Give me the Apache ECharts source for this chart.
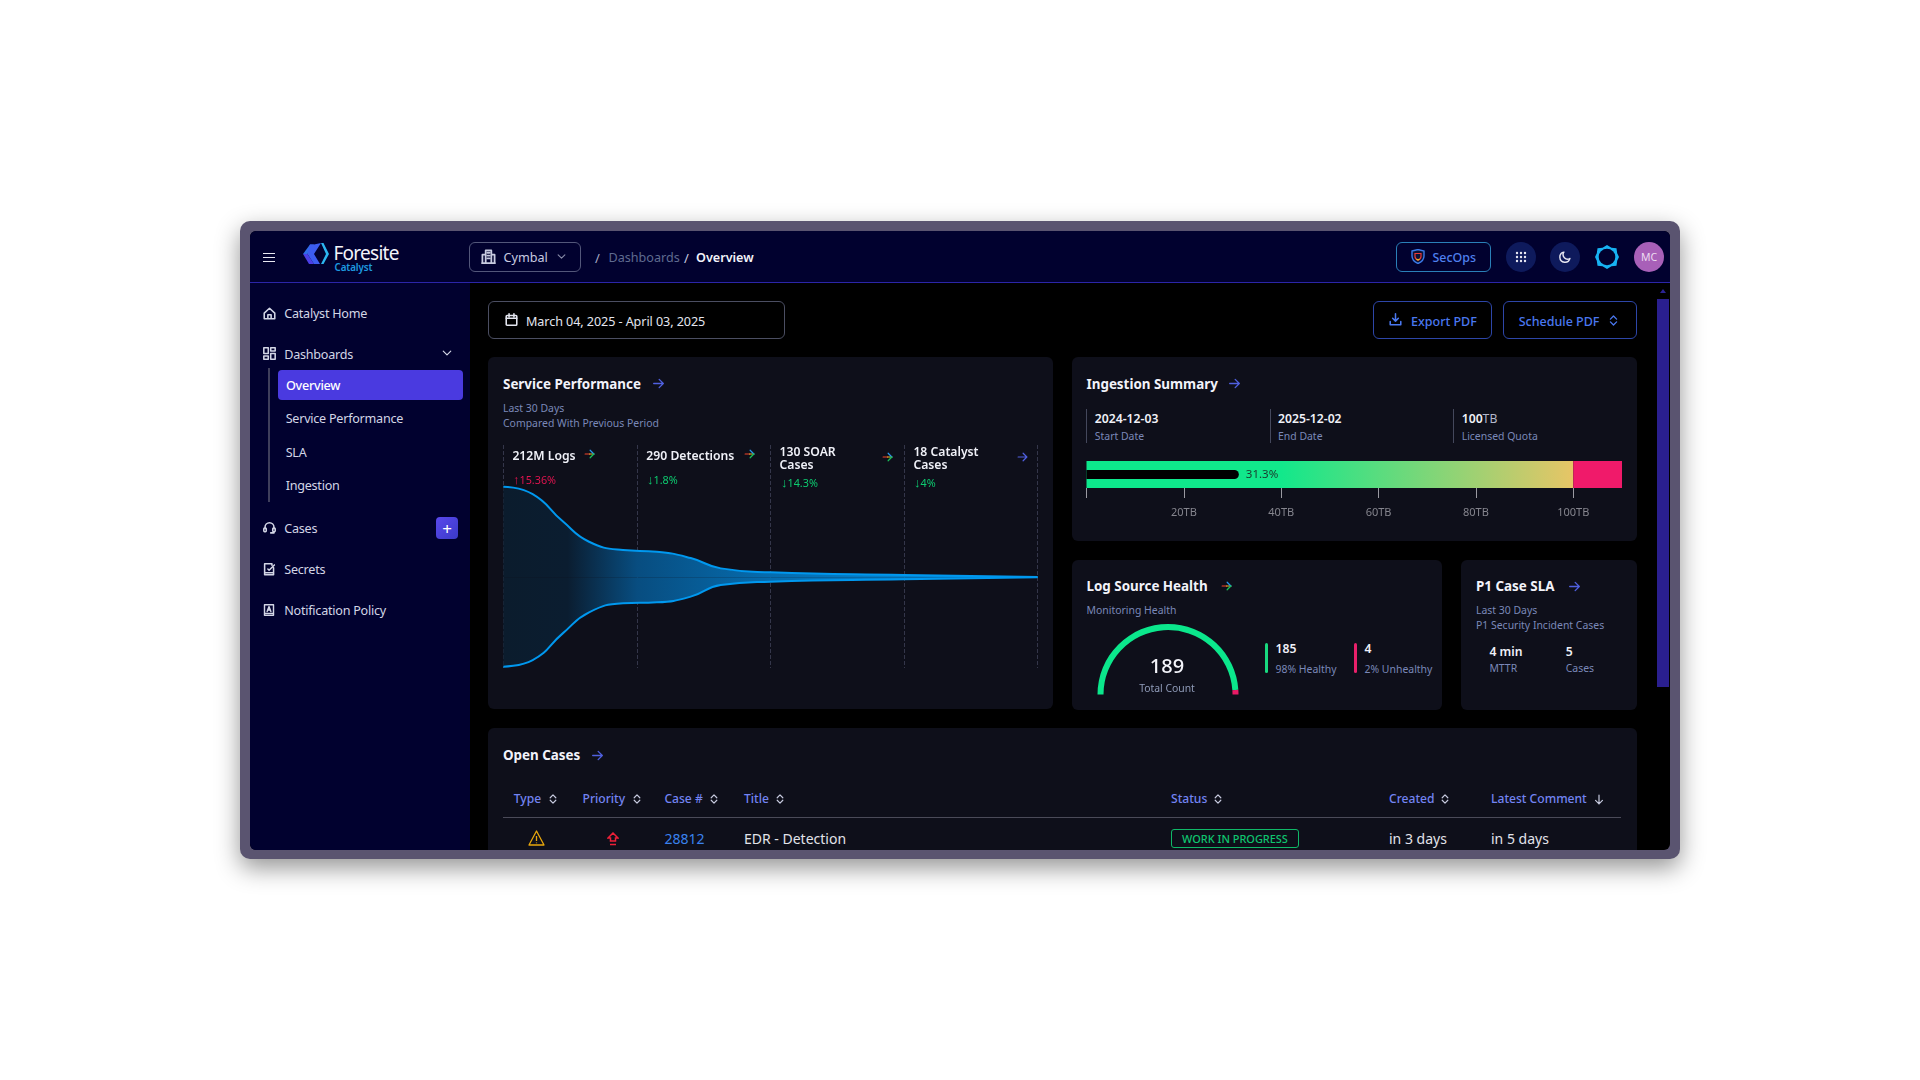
<!DOCTYPE html>
<html>
<head>
<meta charset="utf-8">
<title>Foresite Catalyst Overview</title>
<script src="https://cdn.jsdelivr.net/npm/echarts@6/dist/echarts.min.js"></script>
<style>
html,body{margin:0;padding:0;width:1920px;height:1080px;background:#fff;overflow:hidden;font-family:"Noto Sans",sans-serif}
#frame{position:absolute;left:240px;top:221px;width:1440px;height:638px;background:#5a5470;border-radius:10px;box-shadow:0 9px 24px rgba(0,0,0,.42)}
#page{position:absolute;left:0;top:0;width:1920px;height:1080px;clip-path:inset(231px 250px 230px 250px round 6px);background:#000}
.b{position:absolute}
.t{position:absolute;white-space:nowrap;line-height:1;transform:translateY(-50%);font-size:13px;color:#d8dbe8}
.nav{color:#d3d6e6;font-size:12.6px;letter-spacing:-.25px}
.h{color:#f2f3fa;font-weight:700;font-size:13.4px}
.m{color:#7a88b8;font-size:10.45px}
.v{color:#f0f1f8;font-weight:600;font-size:12.2px}
.th{color:#7384f2;font-size:12.1px;font-weight:500}
.td{color:#e2e3ea;font-size:14px}
.ar{font-size:13px}
.card{position:absolute;background:#0e0f1a;border-radius:6px}
.i{position:absolute;fill:none;stroke:currentColor;stroke-width:1.9;stroke-linecap:round;stroke-linejoin:round;overflow:visible}
.btn{position:absolute;box-sizing:border-box;border-radius:6px;border:1px solid #2d46a8}
.chart{position:absolute}
</style>
</head>
<body>
<svg width="0" height="0" style="position:absolute">
  <symbol id="arrow" viewBox="0 0 16 16"><path d="M1 8h14M9 2l6 6-6 6"/></symbol>
  <symbol id="arrowc" viewBox="0 0 16 16"><path d="M1 8h7" stroke="#f2452a"/><path d="M8 8h7" stroke="#e8c428"/><path d="M9 2l6 6" stroke="#2a98f0"/><path d="M9 14l6-6" stroke="#19c25a"/></symbol>
  <symbol id="sort" viewBox="0 0 16 16"><path d="M3.500 6l4.500-4.500L12.500 6M3.500 10l4.500 4.500 4.500-4.500"/></symbol>
  <symbol id="chev" viewBox="0 0 16 16"><path d="M2 5l6 6 6-6"/></symbol>
  <symbol id="down" viewBox="0 0 16 16"><path d="M8 1v14M2.500 9.500L8 15l5.500-5.500"/></symbol>
  <symbol id="home" viewBox="0 0 16 16"><path d="M1.500 7.500L8 1.500l6.500 6V14.500h-13zM6 14.500V9.500h4v5"/></symbol>
  <symbol id="grid4" viewBox="0 0 16 16"><rect x="1" y="1" width="5.500" height="7"/><rect x="9.500" y="1" width="5.500" height="4"/><rect x="1" y="11" width="5.500" height="4"/><rect x="9.500" y="8" width="5.500" height="7"/></symbol>
  <symbol id="headset" viewBox="0 0 16 16"><path d="M2.500 9V7a5.500 5.500 0 0 1 11 0v2"/><rect x="1" y="8" width="3" height="4.500" rx="1"/><rect x="12" y="8" width="3" height="4.500" rx="1"/><path d="M13.500 12.500v1.500h-4"/></symbol>
  <symbol id="note" viewBox="0 0 16 16"><path d="M2 1.500h9v2M13 6.500V15H2V1.500M2 12.500h11M6 8l1.500 1.500L14 3"/></symbol>
  <symbol id="bookA" viewBox="0 0 16 16"><path d="M2 1h12v14H2zM2 12.500h12M5.500 10L8 3.500l2.500 6.500M6.500 8h3"/></symbol>
  <symbol id="cal" viewBox="0 0 16 16"><rect x="1.500" y="3" width="13" height="12" rx="1"/><path d="M1.500 6.500h13M5 1v3.500M11 1v3.500"/></symbol>
  <symbol id="bldg" viewBox="0 0 16 16"><path d="M5 15V1.500h6V15M5 6H1.500v9M11 6h3.500v9M1 15h14M7 4h2M7 7h2M7 10h2"/></symbol>
  <symbol id="dl" viewBox="0 0 16 16"><path d="M8 1v9M4.500 6.500L8 10l3.500-3.500M1.500 10.500v4h13v-4"/></symbol>
  <symbol id="moon" viewBox="0 0 16 16"><path d="M6.500 1.500a6.800 6.800 0 1 0 8 8.500 6 6 0 0 1-8-8.500z"/></symbol>
</svg>

<div id="frame"></div>
<div id="page">
  <!-- header and sidebar -->
  <div class="b" style="left:250px;top:231px;width:1420px;height:51px;background:#01012f"></div>
  <div class="b" style="left:250px;top:282px;width:1420px;height:1px;background:#2b25a8"></div>
  <div class="b" style="left:250px;top:283px;width:220px;height:567px;background:#01012f"></div>

  <div class="b" style="left:263px;top:252.500px;width:12px;height:1.500px;background:#e8e8f2"></div>
  <div class="b" style="left:263px;top:256.500px;width:12px;height:1.500px;background:#e8e8f2"></div>
  <div class="b" style="left:263px;top:260.500px;width:12px;height:1.500px;background:#e8e8f2"></div>

  <svg class="b" style="left:303px;top:243px" width="27" height="22" viewBox="0 0 27 22">
    <path d="M0 11L7 1.500h4L4.500 11z" fill="#2f6de8"/>
    <path d="M0 11h4.500L11 21H6z" fill="#4b3fe6"/>
    <path d="M7 1.500L11 1.500 18 0 11 11 17 21H11L4.500 11z" fill="#3c5cf0"/>
    <path d="M18 0h2.500L26 11 20.500 21 18 21 23 11z" fill="#2cb6f0"/>
  </svg>
  <span class="t" style="left:333.500px;top:258px;color:#f4f4fa"><span style="display:block;font-size:19px;line-height:19px;letter-spacing:-.75px">Foresite</span><span style="display:block;font-size:9.800px;line-height:9px;margin:0 0 0 1px;color:#1e9ae0;font-weight:600;letter-spacing:-.1px">Catalyst</span></span>

  <div class="btn" style="left:469px;top:242px;width:112px;height:30px;border-color:#53577a"></div>
  <svg class="i" style="left:481px;top:249px;color:#c8cbe0" width="15" height="15"><use href="#bldg"/></svg>
  <span class="t" style="left:503.500px;top:257.500px;color:#c8cbe0;font-size:12.600px">Cymbal</span>
  <svg class="i" style="left:557px;top:252px;color:#8a8eaa" width="9" height="9"><use href="#chev"/></svg>
  <span class="t" style="left:595px;top:257.500px;color:#a8acc4">/</span>
  <span class="t" style="left:608.500px;top:257.500px;color:#5f6b90;font-size:12.600px">Dashboards</span>
  <span class="t" style="left:684px;top:257.500px;color:#c8cbe0">/</span>
  <span class="t" style="left:696px;top:257.500px;color:#f2f3fa;font-weight:600;font-size:12.600px">Overview</span>

  <div class="btn" style="left:1396px;top:242px;width:95px;height:30px;border-color:#2a80b8"></div>
  <svg class="b" style="left:1411px;top:249px" width="14" height="15" viewBox="0 0 14 15">
    <path d="M1 2l6-1.500L13 2v5c0 3.500-2.500 6-6 7.500C3.500 13 1 10.500 1 7z" fill="#0c1236" stroke="#3a7ae8" stroke-width="1.400"/>
    <path d="M4 4.500h6v3c0 1.800-1.300 3-3 3.800-1.700-.8-3-2-3-3.800z" fill="#0c1236" stroke="#e83a3a" stroke-width="1.200"/>
    <path d="M5.500 9.800C6 10.300 6.500 10.700 7 11c.5-.3 1-.7 1.500-1.200" fill="none" stroke="#e8c428" stroke-width="1.200"/>
  </svg>
  <span class="t" style="left:1432.500px;top:257.500px;color:#4f80f0;font-weight:500;font-size:12.400px">SecOps</span>

  <div class="b" style="left:1506px;top:242px;width:30px;height:30px;border-radius:50%;background:#0e1a5c"></div>
  <svg class="b" style="left:1515px;top:251px" width="12" height="12" fill="#e8e8f2">
    <circle cx="2" cy="2" r="1.200"/><circle cx="6" cy="2" r="1.200"/><circle cx="10" cy="2" r="1.200"/>
    <circle cx="2" cy="6" r="1.200"/><circle cx="6" cy="6" r="1.200"/><circle cx="10" cy="6" r="1.200"/>
    <circle cx="2" cy="10" r="1.200"/><circle cx="6" cy="10" r="1.200"/><circle cx="10" cy="10" r="1.200"/>
  </svg>
  <div class="b" style="left:1550px;top:242px;width:30px;height:30px;border-radius:50%;background:#0e1a5c"></div>
  <svg class="i" style="left:1559px;top:251px;color:#e8e8f2" width="12" height="12"><use href="#moon"/></svg>
  <svg class="b" style="left:1595px;top:245px" width="24" height="24" viewBox="0 0 24 24">
    <path d="M12 0l4.500 2.700 5 .5 .7 5L24 12l-1.800 3.800-.7 5-5 .5L12 24l-4.500-2.700-5-.5-.7-5L0 12l1.800-3.800.7-5 5-.5z" fill="#17b2f2"/>
    <circle cx="12" cy="12" r="8.300" fill="#01012f"/>
  </svg>
  <div class="b" style="left:1634px;top:242px;width:30px;height:30px;border-radius:50%;background:#a860b8"></div>
  <span class="t" style="left:1649px;top:257px;transform:translate(-50%,-50%);font-size:10.500px;color:#ecdcf0">MC</span>

  <svg class="i" style="left:263px;top:307px;color:#d3d6e6" width="13" height="13"><use href="#home"/></svg>
  <span class="t nav" style="left:284.300px;top:314.300px">Catalyst Home</span>
  <svg class="i" style="left:263px;top:347px;color:#d3d6e6" width="13" height="13"><use href="#grid4"/></svg>
  <span class="t nav" style="left:284.300px;top:354.700px">Dashboards</span>
  <svg class="i" style="left:442px;top:348px;color:#d3d6e6" width="10" height="10"><use href="#chev"/></svg>
  <div class="b" style="left:268px;top:368px;width:2px;height:134px;background:#3f3f5c"></div>
  <div class="b" style="left:278px;top:370px;width:185px;height:30px;border-radius:4px;background:#4a3ae0"></div>
  <span class="t nav" style="left:286px;top:385.500px;color:#fff;font-weight:500">Overview</span>
  <span class="t nav" style="left:285.700px;top:419.300px">Service Performance</span>
  <span class="t nav" style="left:285.700px;top:452.700px">SLA</span>
  <span class="t nav" style="left:285.700px;top:486.300px">Ingestion</span>
  <svg class="i" style="left:263px;top:521px;color:#d3d6e6" width="13" height="14"><use href="#headset"/></svg>
  <span class="t nav" style="left:284.300px;top:529.300px">Cases</span>
  <div class="b" style="left:436px;top:517px;width:22px;height:22px;border-radius:4px;background:linear-gradient(135deg,#5a48ec,#3a3ac8)"></div>
  <span class="t" style="left:447px;top:527.500px;transform:translate(-50%,-50%);font-size:17px;color:#fff">+</span>
  <svg class="i" style="left:263px;top:562px;color:#d3d6e6" width="13" height="14"><use href="#note"/></svg>
  <span class="t nav" style="left:284.300px;top:570px">Secrets</span>
  <svg class="i" style="left:263px;top:603px;color:#d3d6e6" width="12" height="14"><use href="#bookA"/></svg>
  <span class="t nav" style="left:284.300px;top:610.700px">Notification Policy</span>

  <!-- toolbar -->
  <div class="btn" style="left:488px;top:301px;width:297px;height:38px;border-color:#4b4e62"></div>
  <svg class="i" style="left:505px;top:313px;color:#e4e6f0" width="13" height="13"><use href="#cal"/></svg>
  <span class="t" style="left:526px;top:321.500px;font-size:12.600px;letter-spacing:-.08px;color:#e4e6f0">March 04, 2025 - April 03, 2025</span>
  <div class="btn" style="left:1373px;top:301px;width:119px;height:38px"></div>
  <svg class="i" style="left:1389px;top:313px;color:#4a78f0" width="13" height="13"><use href="#dl"/></svg>
  <span class="t" style="left:1411px;top:321.500px;color:#4a78f0;font-weight:500;font-size:12.500px">Export PDF</span>
  <div class="btn" style="left:1503px;top:301px;width:134px;height:38px"></div>
  <span class="t" style="left:1518.700px;top:321.500px;color:#4a78f0;font-weight:500;font-size:12.500px">Schedule PDF</span>
  <svg class="i" style="left:1608px;top:314px;color:#4a78f0" width="11" height="13"><use href="#sort"/></svg>

  <!-- scrollbar -->
  <div class="b" style="left:1660px;top:289px;width:0;height:0;border-left:3.500px solid transparent;border-right:3.500px solid transparent;border-bottom:4px solid #2a2394"></div>
  <div class="b" style="left:1657px;top:299px;width:12px;height:388px;background:#2a1f8f"></div>

  <!-- cards -->
  <div class="card" style="left:488px;top:357px;width:565px;height:352px"></div>
  <div class="card" style="left:1071.500px;top:357px;width:565px;height:184px"></div>
  <div class="card" style="left:1071.500px;top:560px;width:370.500px;height:150px"></div>
  <div class="card" style="left:1461px;top:560px;width:175.500px;height:150px"></div>
  <div class="card" style="left:488px;top:728px;width:1148.500px;height:140px"></div>

  <!-- service performance -->
  <span class="t h" style="left:503px;top:384.800px">Service Performance</span>
  <svg class="i" style="left:653px;top:378px;color:#5060e0" width="11" height="11"><use href="#arrow"/></svg>
  <span class="t m" style="left:503px;top:408.300px">Last 30 Days</span>
  <span class="t m" style="left:503px;top:423.300px">Compared With Previous Period</span>

  <div id="funnelChart" class="chart" style="left:498px;top:440px;width:545px;height:235px"></div>

  <span class="t v" style="left:512.400px;top:455.700px">212M Logs</span>
  <svg class="i" style="left:584px;top:449px" width="11" height="10"><use href="#arrowc"/></svg>
  <span class="t m" style="left:513px;top:479.300px;color:#e0144f;font-size:10.800px"><span class="ar">↑</span>15.36%</span>
  <span class="t v" style="left:646.300px;top:455.700px">290 Detections</span>
  <svg class="i" style="left:744px;top:449px" width="11" height="10"><use href="#arrowc"/></svg>
  <span class="t m" style="left:647px;top:479.300px;color:#0dc96f;font-size:10.800px"><span class="ar">↓</span>1.8%</span>
  <span class="t v" style="left:779.500px;top:457.700px;line-height:13px">130 SOAR<br>Cases</span>
  <svg class="i" style="left:882px;top:452px" width="11" height="10"><use href="#arrowc"/></svg>
  <span class="t m" style="left:781px;top:482px;color:#0dc96f;font-size:10.800px"><span class="ar">↓</span>14.3%</span>
  <span class="t v" style="left:913.400px;top:457.700px;line-height:13px">18 Catalyst<br>Cases</span>
  <svg class="i" style="left:1017px;top:452px;color:#5060e0" width="11" height="10"><use href="#arrow"/></svg>
  <span class="t m" style="left:914px;top:482px;color:#0dc96f;font-size:10.800px"><span class="ar">↓</span>4%</span>

  <!-- ingestion summary -->
  <span class="t h" style="left:1086.500px;top:384.800px">Ingestion Summary</span>
  <svg class="i" style="left:1229px;top:378px;color:#5060e0" width="11" height="11"><use href="#arrow"/></svg>
  <div class="b" style="left:1086px;top:409px;width:1px;height:34px;background:#44485c"></div>
  <div class="b" style="left:1269.500px;top:409px;width:1px;height:34px;background:#44485c"></div>
  <div class="b" style="left:1453px;top:409px;width:1px;height:34px;background:#44485c"></div>
  <span class="t v" style="left:1094.800px;top:419.300px">2024-12-03</span>
  <span class="t m" style="left:1094.800px;top:435.700px">Start Date</span>
  <span class="t v" style="left:1278px;top:419.300px">2025-12-02</span>
  <span class="t m" style="left:1278px;top:435.700px">End Date</span>
  <span class="t v" style="left:1461.700px;top:419.300px">100<span style="font-weight:400;color:#b4b8cc">TB</span></span>
  <span class="t m" style="left:1461.700px;top:435.700px">Licensed Quota</span>
  <div id="quotaChart" class="chart" style="left:1080px;top:455px;width:550px;height:70px"></div>

  <!-- log source health -->
  <span class="t h" style="left:1086.500px;top:587px">Log Source Health</span>
  <svg class="i" style="left:1221px;top:581px" width="11" height="10"><use href="#arrowc"/></svg>
  <span class="t m" style="left:1086.500px;top:610.300px">Monitoring Health</span>
  <div id="healthChart" class="chart" style="left:1090px;top:618px;width:156px;height:84px"></div>
  <div class="b" style="left:1264.500px;top:643px;width:3px;height:30px;border-radius:2px;background:#18d97f"></div>
  <span class="t v" style="left:1275.500px;top:649.300px">185</span>
  <span class="t m" style="left:1275.500px;top:669.300px">98% Healthy</span>
  <div class="b" style="left:1353.500px;top:643px;width:3px;height:30px;border-radius:2px;background:#e8206a"></div>
  <span class="t v" style="left:1364.500px;top:649.300px">4</span>
  <span class="t m" style="left:1364.500px;top:669.300px">2% Unhealthy</span>

  <!-- p1 case sla -->
  <span class="t h" style="left:1476px;top:587px">P1 Case SLA</span>
  <svg class="i" style="left:1569px;top:581px;color:#5060e0" width="11" height="11"><use href="#arrow"/></svg>
  <span class="t m" style="left:1476px;top:610.300px">Last 30 Days</span>
  <span class="t m" style="left:1476px;top:625px">P1 Security Incident Cases</span>
  <span class="t v" style="left:1489.400px;top:651.700px">4 min</span>
  <span class="t m" style="left:1489.400px;top:668px">MTTR</span>
  <span class="t v" style="left:1565.700px;top:651.700px">5</span>
  <span class="t m" style="left:1565.700px;top:668px">Cases</span>

  <!-- open cases -->
  <span class="t h" style="left:503px;top:755.700px">Open Cases</span>
  <svg class="i" style="left:592px;top:750px;color:#5060e0" width="11" height="11"><use href="#arrow"/></svg>
  <span class="t th" style="left:513.700px;top:799.300px">Type</span>
  <svg class="i" style="left:548px;top:793px;color:#c8cbe0" width="10" height="12"><use href="#sort"/></svg>
  <span class="t th" style="left:582.500px;top:799.300px">Priority</span>
  <svg class="i" style="left:631.500px;top:793px;color:#c8cbe0" width="10" height="12"><use href="#sort"/></svg>
  <span class="t th" style="left:664.400px;top:799.300px">Case #</span>
  <svg class="i" style="left:709px;top:793px;color:#c8cbe0" width="10" height="12"><use href="#sort"/></svg>
  <span class="t th" style="left:744px;top:799.300px">Title</span>
  <svg class="i" style="left:775px;top:793px;color:#c8cbe0" width="10" height="12"><use href="#sort"/></svg>
  <span class="t th" style="left:1171px;top:799.300px">Status</span>
  <svg class="i" style="left:1213px;top:793px;color:#c8cbe0" width="10" height="12"><use href="#sort"/></svg>
  <span class="t th" style="left:1389px;top:799.300px">Created</span>
  <svg class="i" style="left:1440px;top:793px;color:#c8cbe0" width="10" height="12"><use href="#sort"/></svg>
  <span class="t th" style="left:1491px;top:799.300px">Latest Comment</span>
  <svg class="i" style="left:1594px;top:794px;color:#c8cbe0" width="10" height="11"><use href="#down"/></svg>
  <div class="b" style="left:503px;top:817px;width:1118px;height:1px;background:#4a4a58"></div>
  <svg class="b" style="left:528px;top:830px" width="17" height="16" viewBox="0 0 17 16" fill="none" stroke="#e8a70c" stroke-width="1.300" stroke-linejoin="round">
    <path d="M8.500 1L16 15H1z"/><path d="M8.500 6v5M8.500 12.500v.8"/>
  </svg>
  <svg class="b" style="left:607px;top:832px" width="12" height="14" viewBox="0 0 12 14" fill="none" stroke="#ee2038" stroke-width="1.500">
    <path d="M6 1L11 6H8.500v3h-5V6H1z"/><path d="M3 12.500h6"/>
  </svg>
  <span class="t td" style="left:664.400px;top:839.300px;color:#3a82ee">28812</span>
  <span class="t td" style="left:744px;top:839.300px">EDR - Detection</span>
  <div class="btn" style="left:1171px;top:829px;width:128px;height:19px;border-color:#10b868;border-radius:3px"></div>
  <span class="t" style="left:1235px;top:838.500px;transform:translate(-50%,-50%);color:#0ec46f;font-size:10.950px;font-weight:500">WORK IN PROGRESS</span>
  <span class="t td" style="left:1389px;top:839.300px">in 3 days</span>
  <span class="t td" style="left:1491px;top:839.300px">in 5 days</span>
</div>

<script>
// funnel values: x in stages, y as % of the first stage
var funnelX     = [0, 0.22, 0.445, 0.642, 0.896, 1.149, 1.403, 1.628, 2, 3, 4];
var funnelUpper = [100, 91.9, 61.8, 39.3, 30.1, 28.3, 21.3, 9.9, 5.5, 2.6, 0.4];
var funnelLower = [-98.5, -91.2, -61.8, -38.6, -28.7, -27.6, -21.3, -8.5, -4.8, -2.2, 0];

// quota bar, in TB
var quotaRange = [100];
var quotaOver = [10];
var quotaUsed = [31.3];
var quotaTicks = [0, 20, 40, 60, 80, 100];
var quotaLabels = [20, 40, 60, 80, 100];

// log source health
var healthNames = ['Healthy', 'Unhealthy'];
var healthCounts = [185, 4];
var healthTotal = 189;

var funnelFill = new echarts.graphic.LinearGradient(0, 0, 1, 0, [
    {offset: 0, color: '#0b1c2d'},
    {offset: 0.12, color: '#0b1d30'},
    {offset: 0.25, color: '#084d80'},
    {offset: 0.5, color: '#066cae'},
    {offset: 1, color: '#0098ef'}
]);

generate_funnel_series = (values) => {
    return {
        type: 'line',
        data: funnelX.map((x, i) => [x, values[i]]),
        symbol: 'none',
        smooth: 0.5,
        silent: true,
        lineStyle: {color: '#0098ef', width: 2},
        areaStyle: {color: funnelFill, opacity: 1, origin: 0}
    };
}

var funnelChart = echarts.init(document.getElementById('funnelChart'));
funnelChart.setOption({
    animation: false,
    grid: {left: 5.3, top: 5, width: 534.3, height: 223},
    xAxis: {
        type: 'value', min: 0, max: 4, interval: 1,
        axisLine: {show: false}, axisTick: {show: false}, axisLabel: {show: false},
        splitLine: {show: true, lineStyle: {color: '#34364a', type: 'dashed', width: 1}}
    },
    yAxis: {type: 'value', min: -100, max: 146, show: false, splitLine: {show: false}},
    series: [generate_funnel_series(funnelUpper), generate_funnel_series(funnelLower)]
});

var quotaChart = echarts.init(document.getElementById('quotaChart'));
quotaChart.setOption({
    animation: false,
    grid: {left: 6.5, top: 6, width: 535.5, height: 27},
    xAxis: {
        type: 'value', min: 0, max: 110,
        axisLine: {show: false},
        axisTick: {show: true, length: 10, customValues: quotaTicks, lineStyle: {color: '#9a9aa2'}},
        axisLabel: {
            show: true, customValues: quotaLabels, formatter: '{value}TB',
            color: '#85858e', fontSize: 11, margin: 19.5, fontFamily: 'Noto Sans'
        },
        splitLine: {show: false}
    },
    yAxis: [
        {type: 'category', data: ['quota'], show: false},
        {type: 'category', data: ['used'], show: false}
    ],
    series: [
        {
            type: 'bar', stack: 'quota', data: quotaRange, barWidth: 27, silent: true,
            itemStyle: {color: new echarts.graphic.LinearGradient(0, 0, 1, 0, [
                {offset: 0, color: '#0ce88c'},
                {offset: 0.4, color: '#12e88b'},
                {offset: 1, color: '#e7c566'}
            ])}
        },
        {type: 'bar', stack: 'quota', data: quotaOver, barWidth: 27, silent: true, itemStyle: {color: '#f01a6a'}},
        {
            type: 'bar', yAxisIndex: 1, data: quotaUsed, barWidth: 9, silent: true, z: 5,
            itemStyle: {color: '#000', borderRadius: [0, 4.5, 4.5, 0]},
            label: {
                show: true, position: 'right', distance: 7, formatter: '{c}%',
                color: '#1b3a2e', fontSize: 11.5, fontFamily: 'Noto Sans'
            }
        }
    ]
});

var healthChart = echarts.init(document.getElementById('healthChart'));
healthChart.setOption({
    animation: false,
    title: [
        {
            text: String(healthTotal), left: 72, top: 34.5, textAlign: 'center',
            textStyle: {color: '#f4f5fb', fontSize: 20, fontWeight: 500, fontFamily: 'Noto Sans'}
        },
        {
            text: 'Total Count', left: 72, top: 61.5, textAlign: 'center',
            textStyle: {color: '#8f9bb8', fontSize: 10.4, fontWeight: 400, fontFamily: 'Noto Sans'}
        }
    ],
    series: [{
        type: 'pie',
        center: [78, 76.5],
        radius: [64.5, 70.5],
        startAngle: 180,
        endAngle: 360,
        silent: true,
        label: {show: false},
        labelLine: {show: false},
        color: ['#0be78c', '#ea1a66'],
        data: healthNames.map((n, i) => ({name: n, value: healthCounts[i]}))
    }]
});
</script>
</body>
</html>
